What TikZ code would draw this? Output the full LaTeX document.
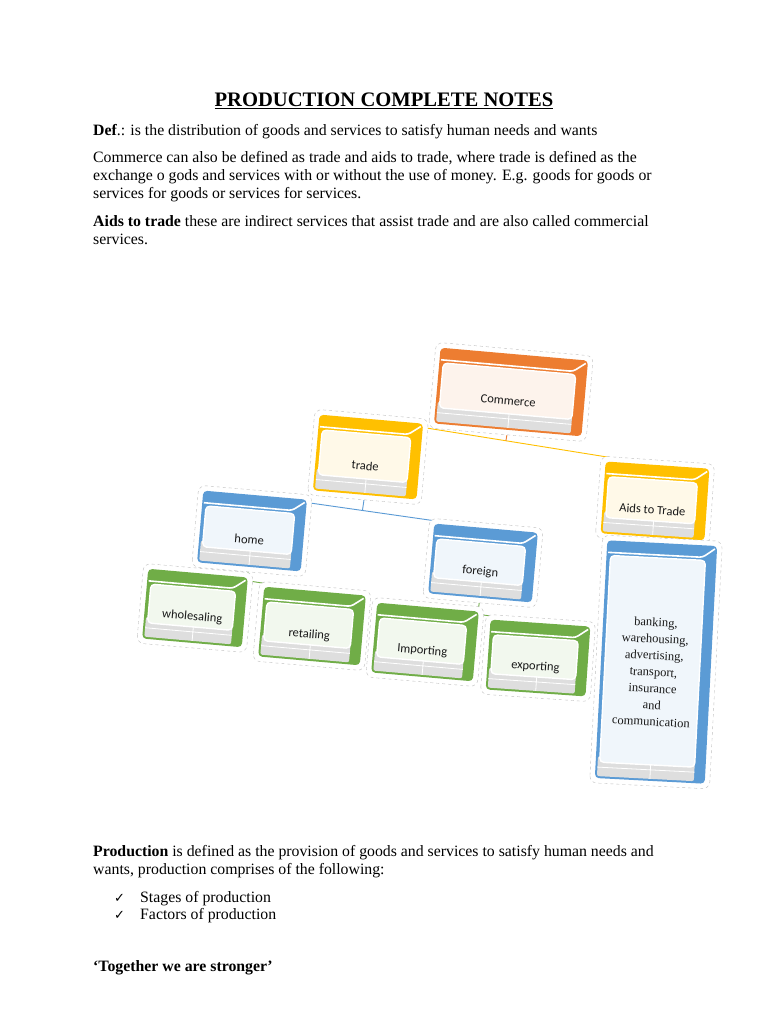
\documentclass[tikz,border=0pt]{standalone}
\usepackage{fontspec}
\setmainfont{Liberation Serif}
\newfontfamily\boxfont{Carlito}
\newfontfamily\tickfont{DejaVu Sans}
\usetikzlibrary{calc,backgrounds}
\definecolor{comorange}{HTML}{ED7D31}
\definecolor{tradegold}{HTML}{FFC000}
\definecolor{homeblue}{HTML}{5B9BD5}
\definecolor{leafgreen}{HTML}{70AD47}

\tikzset{
  body/.style={anchor=base west, inner sep=0pt, font=\fontsize{15.8}{18}\selectfont},
  boxtext/.style={font=\boxfont\fontsize{12.5}{15}\selectfont, text=black!90, align=center, inner sep=1pt, transform shape},
  link/.style={line width=0.9pt},
  pics/orgbox/.style n args={4}{code={
    \draw[fill=white, draw=black!25, dashed, rounded corners=7] (-#2/2-5,-#3/2-5) rectangle (#2/2+5,#3/2+5);
    \fill[#1, rounded corners=4] (-#2/2,-#3/2) rectangle (#2/2,#3/2);
    \fill[black!13, rounded corners=2] (-#2/2+2,-#3/2+2) rectangle (#2/2-11,-#3/2+22);
    \draw[white, line width=0.8pt] (-#2/2+2,-#3/2+11) -- (#2/2-11,-#3/2+11) (0,-#3/2+2) -- (0,-#3/2+16);
    \draw[white, line width=1.4pt, fill=#1!9, rounded corners=4] (-#2/2+4,-#3/2+16) rectangle (#2/2-11,#3/2-15);
    \draw[white, line width=1.6pt, rounded corners=3] (-#2/2+1.5,#3/2-12) -- (#2/2-14,#3/2-12) -- (#2/2-2,#3/2-3);
    \node[boxtext] (-c) at (-2,-9) {#4};
    \coordinate (-t) at (0,#3/2);
    \coordinate (-b) at (0,-#3/2);
  }}
}

\begin{document}
\begin{tikzpicture}[x=1pt,y=1pt]
\path[use as bounding box] (0,0) rectangle (768,-1024);

\node[body, anchor=base, font=\bfseries\fontsize{20.6}{24}\selectfont] (title) at (384,-107) {\underline{PRODUCTION COMPLETE NOTES}};
\node[body] (def) at (93,-136) {\textbf{Def}.: is the distribution of goods and services to satisfy human needs and wants};
\node[body] (com1) at (93,-163) {Commerce can also be defined as trade and aids to trade, where trade is defined as the};
\node[body] (com2) at (93,-181) {exchange o gods and services with or without the use of money. E.g. goods for goods or};
\node[body] (com3) at (93,-199) {services for goods or services for services.};
\node[body] (aid1) at (93,-226) {\textbf{Aids to trade} these are indirect services that assist trade and are also called commercial};
\node[body] (aid2) at (93,-244) {services.};

\pic[rotate=-5] (commerce) at (511,-392) {orgbox={comorange}{148}{76}{Commerce}};
\pic[rotate=-5] (trade) at (368,-457) {orgbox={tradegold}{104}{76}{trade}};
\pic[rotate=-4] (aids) at (655,-501) {orgbox={tradegold}{104}{72}{Aids to Trade}};
\pic[rotate=-5] (home) at (252,-531) {orgbox={homeblue}{104}{72}{home}};
\pic[rotate=-5] (whole) at (195,-608) {orgbox={leafgreen}{100}{70}{wholesaling}};
\pic[rotate=-5] (retail) at (312,-626) {orgbox={leafgreen}{102}{70}{retailing}};
\pic[rotate=-5] (import) at (425,-642) {orgbox={leafgreen}{102}{70}{Importing}};
\pic[rotate=-5] (foreign) at (483,-563) {orgbox={homeblue}{104}{70}{foreign}};
\pic[rotate=-4] (export) at (538,-658) {orgbox={leafgreen}{100}{70}{exporting}};
\pic[rotate=-3, boxtext/.append style={font=\rmfamily\fontsize{12.5}{16.6}\selectfont, yshift=-1pt}] (banking) at (656,-662)
  {orgbox={homeblue}{110}{238}{banking,\\warehousing,\\advertising,\\transport,\\insurance\\and\\communication}};

\begin{pgfonlayer}{background}
\fill[white] (0,0) rectangle (768,-1024);
\draw[link, tradegold] (trade-t) -- (aids-t);
\draw[link, comorange] (commerce-b) -- ($(trade-t)!(commerce-b)!(aids-t)$);
\draw[link, homeblue] (home-t) -- (foreign-t);
\draw[link, homeblue] (trade-b) -- ($(home-t)!(trade-b)!(foreign-t)$);
\draw[link, leafgreen] (whole-t) -- (retail-t);
\draw[link, leafgreen] (home-b) -- ($(whole-t)!(home-b)!(retail-t)$);
\draw[link, leafgreen] (import-t) -- (export-t);
\draw[link, leafgreen] (foreign-b) -- ($(import-t)!(foreign-b)!(export-t)$);
\draw[link, homeblue] (aids-b) -- (banking-t);
\end{pgfonlayer}

\node[body] (prod1) at (93,-856) {\textbf{Production} is defined as the provision of goods and services to satisfy human needs and};
\node[body] (prod2) at (93,-874) {wants, production comprises of the following:};
\node[body] (tick1) at (114,-902) {\tickfont\fontsize{13}{15}\selectfont ✓};
\node[body] (stages) at (140,-902) {Stages of production};
\node[body] (tick2) at (114,-919) {\tickfont\fontsize{13}{15}\selectfont ✓};
\node[body] (factors) at (140,-919) {Factors of production};
\node[body, font=\bfseries\fontsize{15.8}{18}\selectfont] (motto) at (93,-971) {‘Together we are stronger’};
\end{tikzpicture}
\end{document}
